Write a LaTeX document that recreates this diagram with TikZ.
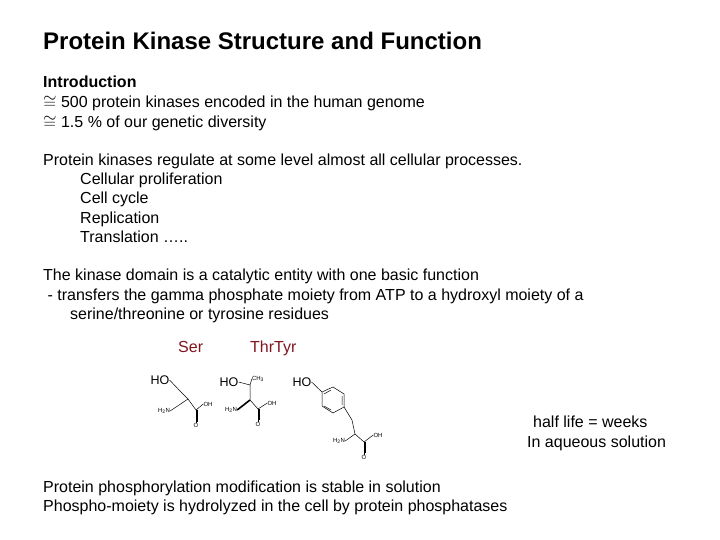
\documentclass[tikz,border=0pt]{standalone}
\usepackage{fontspec}
\setmainfont{Liberation Sans}
\usepackage{amssymb}
\definecolor{dred}{RGB}{128,20,30}
\begin{document}
\begin{tikzpicture}[x=1pt,y=-1pt,
 t/.style={anchor=base west,inner sep=0,font=\fontsize{16}{16}\selectfont},
 sm/.style={inner sep=0,font=\fontsize{6}{6}\selectfont},
 ho/.style={inner sep=0,font=\fontsize{12.5}{12}\selectfont},
 bond/.style={line width=0.5pt}]
\useasboundingbox (0,0) rectangle (720,540);
\node[t,font=\bfseries\fontsize{24}{24}\selectfont] (title) at (43,50) {Protein Kinase Structure and Function};
\node[t,font=\bfseries\fontsize{16}{16}\selectfont] (intro) at (43,88) {Introduction};
\node[t] (l1) at (43,108) {$\cong$ 500 protein kinases encoded in the human genome};
\node[t] (l2) at (43,128) {$\cong$ 1.5 \% of our genetic diversity};
\node[t] (l3) at (43,166) {Protein kinases regulate at some level almost all cellular processes.};
\node[t] (l4) at (80,185) {Cellular proliferation};
\node[t] (l5) at (80,204) {Cell cycle};
\node[t] (l6) at (80,223) {Replication};
\node[t] (l7) at (80,243) {Translation …..};
\node[t] (l8) at (43,280) {The kinase domain is a catalytic entity with one basic function};
\node[t] (l9) at (43,300) {\ - transfers the gamma phosphate moiety from ATP to a hydroxyl moiety of a};
\node[t] (l10) at (70,319) {serine/threonine or tyrosine residues};
\node[t,text=dred] (ser) at (178,352) {Ser};
\node[t,text=dred] (thr) at (250,352) {ThrTyr};
\node[t] (hl) at (533,427) {half life = weeks};
\node[t] (aq) at (527,447) {In aqueous solution};
\node[t] (p1) at (43,492) {Protein phosphorylation modification is stable in solution};
\node[t] (p2) at (43,511) {Phospho-moiety is hydrolyzed in the cell by protein phosphatases};
% Ser
\node[ho] (sho) at (160,380) {HO};
\node[sm] (snh) at (164,411) {H\textsubscript{2}N};
\node[sm] (soh) at (208,404) {OH};
\node[sm] (so) at (196,425) {O};
\coordinate (s1) at (180,391); \coordinate (s2) at (188,399);
\coordinate (s3) at (196,410);
\draw[bond] (sho.east) -- (s1) -- (s2) -- (s3) -- (soh.west);
\draw[bond] (snh.east) -- (s2);
\draw[bond] (s3) -- (so.north) (s3)++(1.5,0) -- ++(0,12);
% Thr
\node[ho] (tho) at (229,382) {HO};
\node[sm] (tch) at (258,379) {CH\textsubscript{3}};
\node[sm] (tnh) at (231,410) {H\textsubscript{2}N};
\node[sm] (toh) at (272,403) {OH};
\node[sm] (to) at (258,424) {O};
\coordinate (t1) at (250,385); \coordinate (t2) at (250,400); \coordinate (t3) at (258,409);
\draw[bond] (tho.east) -- (t1) -- (tch.west);
\draw[bond] (t1) -- (t2) -- (t3) -- (toh.west);
\draw[line width=1.6pt] (tnh.east) -- (t2);
\draw[bond] (t3) -- (to.north) (t3)++(1.5,0) -- ++(0,11);
% Tyr
\node[ho] (yho) at (302,382) {HO};
\coordinate (r1) at (322,392); \coordinate (r2) at (333,387); \coordinate (r3) at (344,394);
\coordinate (r4) at (344,407); \coordinate (r5) at (333,413); \coordinate (r6) at (322,406);
\draw[bond] (yho.east) -- (r1);
\draw[bond] (r1)--(r2)--(r3)--(r4)--(r5)--(r6)--cycle;
\draw[bond] (324,394)--(331,390) (342,396)--(342,405) (331,410)--(324,406);
\coordinate (y1) at (352,420); \coordinate (y2) at (355,434); \coordinate (y3) at (364,442);
\node[sm] (ynh) at (339,441) {H\textsubscript{2}N};
\node[sm] (yoh) at (378,435) {OH};
\node[sm] (yo) at (364,457) {O};
\draw[bond] (r4) -- (y1) -- (y2) -- (y3) -- (yoh.west);
\draw[bond] (ynh.east) -- (y2);
\draw[bond] (y3) -- (yo.north) (y3)++(1.5,0) -- ++(0,11);
\end{tikzpicture}
\end{document}
